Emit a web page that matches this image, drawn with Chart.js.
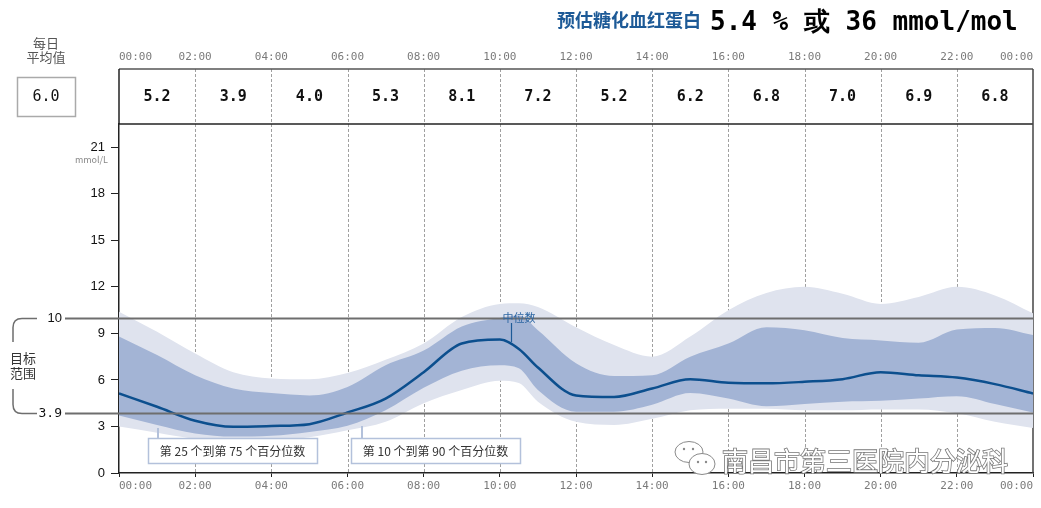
<!DOCTYPE html>
<html lang="zh">
<head>
<meta charset="UTF-8">
<title>动态血糖图谱</title>
<script src="https://cdn.jsdelivr.net/npm/chart.js"></script>
<style>
  html, body { margin: 0; padding: 0; background: #fff; }
  canvas { display: block; }
</style>
</head>
<body>
<canvas id="agp" width="1041" height="508"></canvas>
<script>
// hours of the day (x), glucose in mmol/L (y)
const hours  = [0, 1, 2, 3, 4, 5, 6, 7, 8, 9, 10, 10.5, 11, 12, 13, 14, 15, 16, 17, 18, 19, 20, 21, 22, 23, 24];
const p10    = [3.0, 2.6, 2.2, 2.0, 2.05, 2.3, 2.75, 3.3, 4.5, 5.35, 5.95, 5.8, 4.6, 3.3, 3.1, 3.5, 4.05, 4.15, 4.15, 4.05, 4.05, 4.1, 4.1, 3.85, 3.3, 2.9];
const p25    = [3.7, 3.1, 2.55, 2.35, 2.4, 2.65, 3.05, 4.05, 5.5, 6.6, 6.95, 6.75, 5.35, 3.95, 3.95, 4.4, 5.15, 4.8, 4.3, 4.45, 4.6, 4.65, 4.8, 4.95, 4.45, 3.9];
const median = [5.13, 4.27, 3.37, 2.98, 3.03, 3.15, 3.9, 4.8, 6.5, 8.35, 8.6, 8.0, 6.8, 5.0, 4.9, 5.45, 6.05, 5.82, 5.78, 5.88, 6.05, 6.5, 6.3, 6.15, 5.73, 5.13];
const p75    = [8.8, 7.6, 6.3, 5.45, 5.15, 5.0, 5.55, 6.95, 7.9, 9.45, 10.0, 10.15, 9.2, 7.07, 6.25, 6.3, 7.5, 8.35, 9.4, 9.2, 8.7, 8.55, 8.4, 9.25, 9.35, 8.9];
const p90    = [10.4, 9.1, 7.7, 6.5, 6.1, 6.05, 6.45, 7.3, 8.35, 10.05, 10.9, 10.95, 10.7, 9.4, 8.25, 7.5, 8.8, 10.5, 11.6, 12.0, 11.55, 10.9, 11.35, 12.0, 11.45, 10.3];

// 2-hour means shown in the header row
const periodMeans = ['5.2', '3.9', '4.0', '5.3', '8.1', '7.2', '5.2', '6.2', '6.8', '7.0', '6.9', '6.8'];
const hourTicks = [0, 2, 4, 6, 8, 10, 12, 14, 16, 18, 20, 22, 24];
const yTicks = [0, 3, 6, 9, 12, 15, 18, 21];
const targetLow = 3.9;
const targetHigh = 10;
const dailyMean = '6.0';
const a1cLabel = '预估糖化血红蛋白';
const a1cValue = '5.4 % 或 36 mmol/mol';

const CJK = '"Noto Sans CJK SC", "Noto Sans", sans-serif';
const MONO = '"DejaVu Sans Mono", "Liberation Mono", monospace';

function pts(arr) {
  return hours.map((h, i) => ({ x: h, y: arr[i] }));
}
function hourLabel(v) {
  const h = v % 24;
  return (h < 10 ? '0' + h : '' + h) + ':00';
}
function line(ctx, x1, y1, x2, y2) {
  ctx.beginPath();
  ctx.moveTo(x1, y1);
  ctx.lineTo(x2, y2);
  ctx.stroke();
}

const headerTop = 69;

const agpDecor = {
  id: 'agpDecor',
  beforeDatasetsDraw(chart) {
    const { ctx, chartArea: a, scales: { x } } = chart;
    ctx.save();

    // vertical dashed grid through header and plot
    ctx.strokeStyle = '#a0a0a0';
    ctx.lineWidth = 1;
    ctx.setLineDash([3, 2]);
    hourTicks.slice(1, -1).forEach(h => {
      const px = Math.round(x.getPixelForValue(h)) + 0.5;
      line(ctx, px, headerTop, px, a.bottom);
    });
    ctx.setLineDash([]);

    // header frame
    ctx.strokeStyle = '#555';
    ctx.lineWidth = 1.5;
    line(ctx, a.left, headerTop, a.right, headerTop);
    ctx.strokeStyle = '#222';
    line(ctx, a.left, a.top, a.right, a.top);
    line(ctx, a.left, headerTop, a.left, a.top);
    ctx.strokeStyle = '#444';
    line(ctx, a.right, headerTop, a.right, a.bottom);

    // hour labels on top
    ctx.fillStyle = '#7a7a7a';
    ctx.font = '11px ' + MONO;
    ctx.textBaseline = 'middle';
    hourTicks.forEach((h, i) => {
      ctx.textAlign = i === 0 ? 'left' : (i === hourTicks.length - 1 ? 'right' : 'center');
      ctx.fillText(hourLabel(h), x.getPixelForValue(h), 57);
    });

    // 2-hour means
    ctx.fillStyle = '#111';
    ctx.font = 'bold 15px ' + MONO;
    ctx.textAlign = 'center';
    periodMeans.forEach((v, i) => {
      const cx = (x.getPixelForValue(i * 2) + x.getPixelForValue(i * 2 + 2)) / 2;
      ctx.fillText(v, cx, 97);
    });

    // daily mean box
    ctx.fillStyle = '#555';
    ctx.font = '13px ' + CJK;
    ctx.fillText('每日', 46, 43);
    ctx.fillText('平均值', 46, 57);
    ctx.strokeStyle = '#aaa';
    ctx.lineWidth = 1.5;
    ctx.strokeRect(17.5, 77.5, 58, 39);
    ctx.fillStyle = '#111';
    ctx.font = '15px ' + MONO;
    ctx.fillText(dailyMean, 46, 97);

    // title
    ctx.textBaseline = 'alphabetic';
    ctx.textAlign = 'right';
    ctx.fillStyle = '#1d5a97';
    ctx.font = 'bold 18px ' + CJK;
    ctx.fillText(a1cLabel, 701, 27);
    ctx.textAlign = 'left';
    ctx.fillStyle = '#000';
    ctx.font = 'bold 26px ' + MONO;
    ctx.fillText(a1cValue, 710, 30, 310);

    // y unit
    ctx.fillStyle = '#888';
    ctx.font = '9px ' + CJK;
    ctx.textAlign = 'right';
    ctx.textBaseline = 'middle';
    ctx.fillText('mmol/L', 108, 160);

    ctx.restore();
  },
  afterDatasetsDraw(chart) {
    const { ctx, chartArea: a, scales: { x, y } } = chart;
    ctx.save();

    // target range lines
    const yHi = Math.round(y.getPixelForValue(targetHigh)) + 0.5;
    const yLo = Math.round(y.getPixelForValue(targetLow)) + 0.5;
    ctx.strokeStyle = '#6e6e6e';
    ctx.lineWidth = 2;
    line(ctx, 65, yHi, a.right, yHi);
    line(ctx, 65, yLo, a.right, yLo);
    ctx.fillStyle = '#111';
    ctx.font = '13px "Liberation Sans", Arial, sans-serif';
    ctx.textAlign = 'right';
    ctx.textBaseline = 'middle';
    ctx.fillText(String(targetHigh), 62, yHi);
    ctx.font = '13px ' + MONO;
    ctx.fillText(String(targetLow), 62, yLo);

    // bracket + label
    ctx.strokeStyle = '#6e6e6e';
    ctx.lineWidth = 1.5;
    const r = 9;
    ctx.beginPath();
    ctx.moveTo(37, yHi);
    ctx.lineTo(13 + r, yHi);
    ctx.quadraticCurveTo(13, yHi, 13, yHi + r);
    ctx.lineTo(13, 342);
    ctx.stroke();
    ctx.beginPath();
    ctx.moveTo(13, 389);
    ctx.lineTo(13, yLo - r);
    ctx.quadraticCurveTo(13, yLo, 13 + r, yLo);
    ctx.lineTo(37, yLo);
    ctx.stroke();
    ctx.fillStyle = '#333';
    ctx.font = '13px ' + CJK;
    ctx.textAlign = 'center';
    ctx.fillText('目标', 23, 358);
    ctx.fillText('范围', 23, 373);

    // median call-out
    const mx = 511.5;
    ctx.strokeStyle = '#1d5a97';
    ctx.lineWidth = 1.2;
    line(ctx, mx, 323, mx, 342);
    ctx.fillStyle = '#2d66a3';
    ctx.font = '11px ' + CJK;
    ctx.fillText('中位数', 519, 318);

    // percentile legend boxes
    const boxes = [
      { x0: 148, x1: 317, px: 158, py: 428, text: '第 25 个到第 75 个百分位数' },
      { x0: 351, x1: 520, px: 362, py: 426, text: '第 10 个到第 90 个百分位数' }
    ];
    boxes.forEach(b => {
      ctx.strokeStyle = '#b3c1db';
      ctx.lineWidth = 2;
      line(ctx, b.px, b.py, b.px, 438);
      ctx.fillStyle = '#fff';
      ctx.fillRect(b.x0, 438, b.x1 - b.x0, 25);
      ctx.lineWidth = 1.5;
      ctx.strokeRect(b.x0 + 0.5, 438.5, b.x1 - b.x0, 25);
      ctx.fillStyle = '#333';
      ctx.font = '12px ' + CJK;
      ctx.fillText(b.text, (b.x0 + b.x1) / 2, 451);
    });

    // watermark
    ctx.lineWidth = 1;
    ctx.strokeStyle = '#8a8a8a';
    ctx.fillStyle = '#fff';
    [[689, 452, 14, 10.5], [702, 464, 13, 10.5]].forEach(e => {
      ctx.beginPath();
      ctx.ellipse(e[0], e[1], e[2], e[3], 0, 0, Math.PI * 2);
      ctx.fill();
      ctx.stroke();
    });
    ctx.fillStyle = '#8a8a8a';
    [[684, 449], [693, 449], [698, 462], [706, 462]].forEach(p => {
      ctx.beginPath();
      ctx.arc(p[0], p[1], 1.2, 0, Math.PI * 2);
      ctx.fill();
    });
    ctx.font = '26px ' + CJK;
    ctx.textAlign = 'left';
    ctx.textBaseline = 'middle';
    ctx.lineWidth = 1.6;
    ctx.strokeStyle = '#777';
    ctx.strokeText('南昌市第三医院内分泌科', 722, 461);
    ctx.fillStyle = '#fff';
    ctx.fillText('南昌市第三医院内分泌科', 722, 461);

    ctx.restore();
  }
};

new Chart(document.getElementById('agp'), {
  type: 'line',
  data: {
    datasets: [
      { label: 'p10', data: pts(p10), borderWidth: 0, fill: false, order: 5 },
      { label: 'p90', data: pts(p90), borderWidth: 0, backgroundColor: '#dfe3ee', fill: 0, order: 4 },
      { label: 'p25', data: pts(p25), borderWidth: 0, fill: false, order: 3 },
      { label: 'p75', data: pts(p75), borderWidth: 0, backgroundColor: '#a3b4d5', fill: 2, order: 2 },
      { label: '中位数', data: pts(median), borderColor: '#0c4f8e', borderWidth: 2.5, fill: false, order: 1 }
    ]
  },
  options: {
    responsive: false,
    animation: false,
    layout: { padding: { left: 0, right: 8, top: 124, bottom: 0 } },
    elements: {
      point: { radius: 0 },
      line: { cubicInterpolationMode: 'monotone' }
    },
    plugins: {
      legend: { display: false },
      tooltip: { enabled: false }
    },
    scales: {
      x: {
        type: 'linear',
        min: 0,
        max: 24,
        afterFit: s => { s.height = 35; },
        afterBuildTicks: s => { s.ticks = hourTicks.map(v => ({ value: v })); },
        ticks: {
          autoSkip: false,
          maxRotation: 0,
          align: 'inner',
          padding: 3,
          color: '#7a7a7a',
          font: { family: MONO, size: 11 },
          callback: v => hourLabel(v)
        },
        grid: { drawOnChartArea: false, tickLength: 4, color: '#222' },
        border: { color: '#222', width: 1.5 }
      },
      y: {
        min: 0,
        max: 22.5,
        afterFit: s => { s.width = 119; },
        afterBuildTicks: s => { s.ticks = yTicks.map(v => ({ value: v })); },
        ticks: {
          padding: 6,
          color: '#111',
          font: { family: '"Liberation Sans", Arial, sans-serif', size: 13 }
        },
        grid: { drawOnChartArea: false, tickLength: 8, color: '#222' },
        border: { color: '#222', width: 1.5 }
      }
    }
  },
  plugins: [agpDecor]
});
</script>
</body>
</html>
